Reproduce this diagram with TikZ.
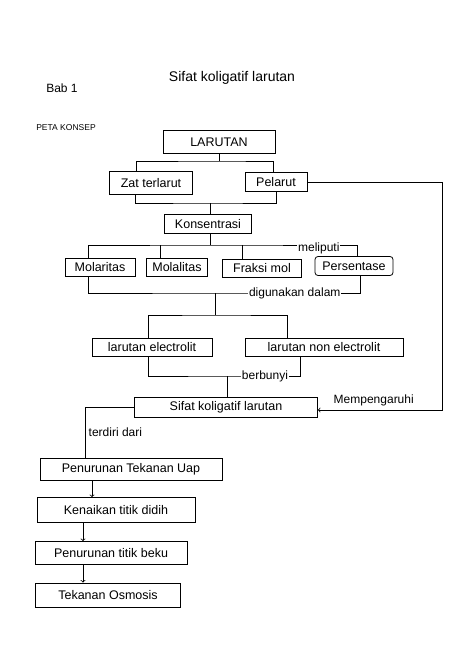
\documentclass[tikz,border=0pt]{standalone}
\usepackage{fontspec}
\setmainfont{Liberation Sans}
\usetikzlibrary{positioning,arrows}

\tikzset{
  konsep/.style={draw, line width=0.8pt, inner sep=2pt, font=\fontsize{12.5}{14}\selectfont},
  lbl/.style={fill=white, inner sep=1pt, font=\fontsize{12}{14}\selectfont},
  garis/.style={line width=0.8pt}
}

\begin{document}
\begin{tikzpicture}[x=1pt, y=-1pt]
      \useasboundingbox (0,0) rectangle (474,669);

      \node[font=\fontsize{12}{14}\selectfont] (bab) at (62,88) {Bab 1};
      \node[font=\fontsize{14}{16}\selectfont] (judul) at (232,78) {Sifat koligatif larutan};
      \node[font=\fontsize{8.5}{10}\selectfont] (peta) at (66,128) {PETA KONSEP};

      \node[konsep, minimum width=112, minimum height=23] (larutan) at (219,142) {LARUTAN};
      \node[konsep, minimum width=83, minimum height=23] (zat) at (151,183) {Zat terlarut};
      \node[konsep, minimum width=62, minimum height=19] (pelarut) at (276,182) {Pelarut};
      \node[konsep, minimum width=87, minimum height=19] (kons) at (208,224) {Konsentrasi};

      \node[konsep, minimum width=70, minimum height=18] (molar) at (100,267) {Molaritas};
      \node[konsep, minimum width=61, minimum height=18] (molal) at (177,267) {Molalitas};
      \node[konsep, minimum width=79, minimum height=18] (fraksi) at (262,268) {Fraksi mol};
      \node[konsep, minimum width=78, minimum height=19, rounded corners=3pt] (persen) at (354,266) {Persentase};

      \node[konsep, minimum width=120, minimum height=18] (elek) at (152,347) {larutan electrolit};
      \node[konsep, minimum width=158, minimum height=18] (nonelek) at (324,347) {larutan non electrolit};

      \node[konsep, minimum width=183, minimum height=20] (sifat) at (226,407) {Sifat koligatif larutan};

      \node[konsep, minimum width=182, minimum height=22] (ptu) at (131,469) {Penurunan Tekanan Uap};
      \node[konsep, minimum width=158, minimum height=25] (ktd) at (116,510) {Kenaikan titik didih};
      \node[konsep, minimum width=152, minimum height=23] (ptb) at (111,553) {Penurunan titik beku};
      \node[konsep, minimum width=145, minimum height=24] (osmo) at (108,595) {Tekanan Osmosis};

      % larutan -> zat terlarut, pelarut
      \coordinate (j1) at (219,161);
      \draw[garis] (larutan.south) -- (j1);
      \draw[garis] ([xshift=-15pt]zat.north) |- (j1) -| ([xshift=-3pt]pelarut.north);

      % zat terlarut, pelarut -> konsentrasi
      \coordinate (j2) at (210,203);
      \draw[garis] ([xshift=-16pt]zat.south) |- (j2) -| (pelarut.south);
      \draw[garis] (j2) -- (j2 |- kons.north);

      % konsentrasi -> meliputi
      \coordinate (j3) at (210,245);
      \coordinate (j3r) at (357,245);
      \draw[garis] (j3 |- kons.south) -- (j3);
      \draw[garis] ([xshift=-12pt]molar.north) |- (j3) -- node[lbl, pos=0.74, yshift=-3pt] {meliputi} (j3r) -- (j3r |- persen.north);
      \draw[garis] ([xshift=-17pt]molal.north) -- ([xshift=-17pt]molal.north |- j3);
      \draw[garis] ([xshift=-20pt]fraksi.north) -- ([xshift=-20pt]fraksi.north |- j3);

      % digunakan dalam
      \coordinate (j4) at (215,293);
      \coordinate (j4r) at (360,293);
      \draw[garis] ([xshift=-12pt]molar.south) |- (j4) -- node[lbl, pos=0.55] {digunakan dalam} (j4r) -- (j4r |- persen.south);
      \coordinate (j5) at (215,315);
      \draw[garis] (j4) -- (j5);
      \draw[garis] ([xshift=-4pt]elek.north) |- (j5) -| ([xshift=-37pt]nonelek.north);

      % berbunyi
      \coordinate (j6) at (227,376);
      \coordinate (j6r) at (300,376);
      \draw[garis] ([xshift=-4pt]elek.south) |- (j6) -- node[lbl, pos=0.52] {berbunyi} (j6r) -- (j6r |- nonelek.south);
      \draw[garis] (j6) -- (j6 |- sifat.north);

      % mempengaruhi
      \coordinate (k2) at (442,410);
      \draw[garis,->] (pelarut.east) -| (k2) -- node[above, pos=0.55, font=\fontsize{12}{14}\selectfont] {Mempengaruhi} (sifat.east |- k2);

      % terdiri dari
      \draw[garis] (sifat.west) -| node[pos=0.75, right, font=\fontsize{12}{14}\selectfont] {terdiri dari} ([xshift=-46pt]ptu.north);

      \draw[garis,->] ([xshift=-39pt]ptu.south) -- ([xshift=-39pt]ptu.south |- ktd.north);
      \draw[garis,->] ([xshift=-33pt]ktd.south) -- ([xshift=-33pt]ktd.south |- ptb.north);
      \draw[garis,->] ([xshift=-28pt]ptb.south) -- ([xshift=-28pt]ptb.south |- osmo.north);
    \end{tikzpicture}
\end{document}
